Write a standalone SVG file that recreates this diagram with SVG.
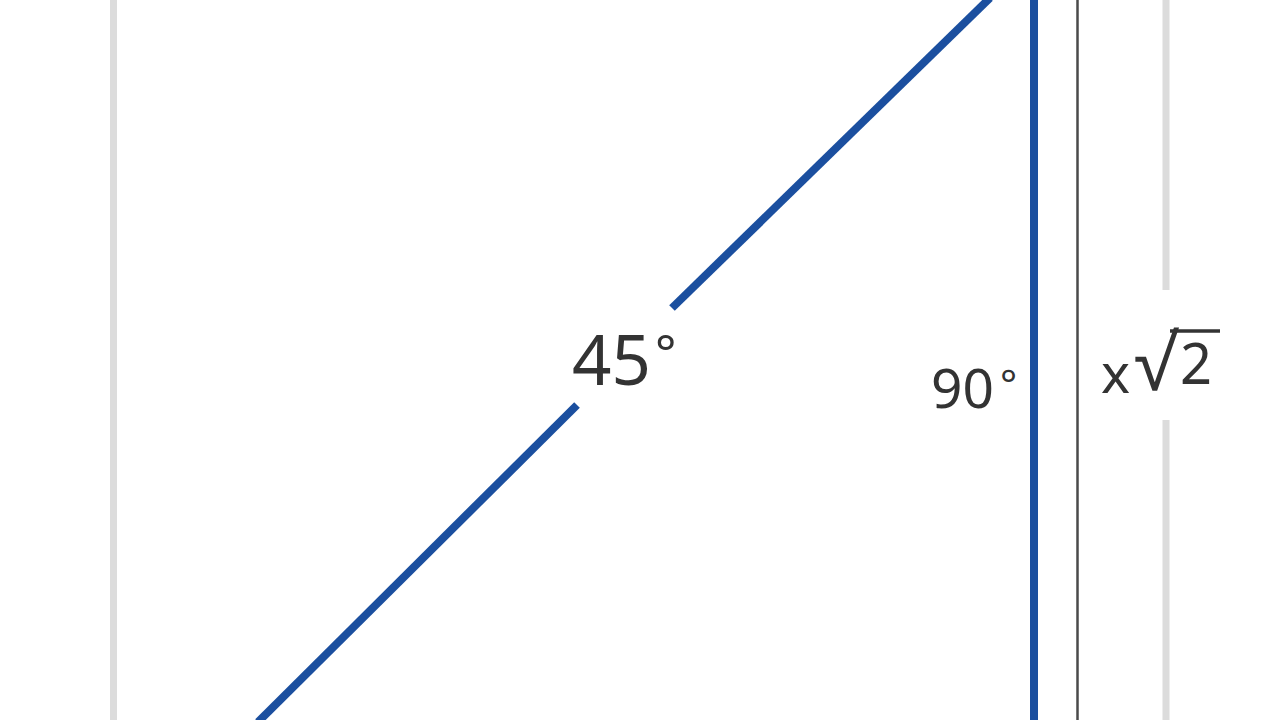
<svg xmlns="http://www.w3.org/2000/svg" width="1280" height="720" viewBox="0 0 1280 720">
<style>
.gray{stroke:#dcdcdc;stroke-width:7;fill:none}
.blue{stroke:#1b4f9f;stroke-width:8;fill:none}
.dark{stroke:#4a4a4a;stroke-width:2.5;fill:none}
.lbl{font-family:"Noto Sans","Open Sans",sans-serif;fill:#333}
</style>
<rect width="1280" height="720" fill="#fff"/>
<g id="connectors">
<line class="gray" x1="113.5" y1="0" x2="113.5" y2="720"/>
<line class="blue" x1="258" y1="722" x2="577" y2="405"/>
<line class="blue" x1="672" y1="308" x2="990" y2="-2"/>
<line class="blue" x1="1034" y1="0" x2="1034" y2="720"/>
<line class="dark" x1="1077.5" y1="0" x2="1077.5" y2="720"/>
<line class="gray" x1="1166" y1="0" x2="1166" y2="290"/>
<line class="gray" x1="1166" y1="420" x2="1166" y2="720"/>
</g>
<g id="angle45">
<text class="lbl" x="572" y="385" font-size="69">45</text>
<text class="lbl" x="655" y="371" font-size="50">°</text>
</g>
<g id="angle90">
<text class="lbl" x="931" y="408" font-size="55">90</text>
<text class="lbl" x="1000" y="399" font-size="40">°</text>
</g>
<g id="hyp">
<text class="lbl" x="1101" y="393" font-size="55">x</text>
<text class="lbl" x="1134" y="390" font-size="76">√</text>
<line x1="1170" y1="331" x2="1220" y2="331" stroke="#333" stroke-width="3.5"/>
<text class="lbl" x="1180" y="384" font-size="56">2</text>
</g>
</svg>
